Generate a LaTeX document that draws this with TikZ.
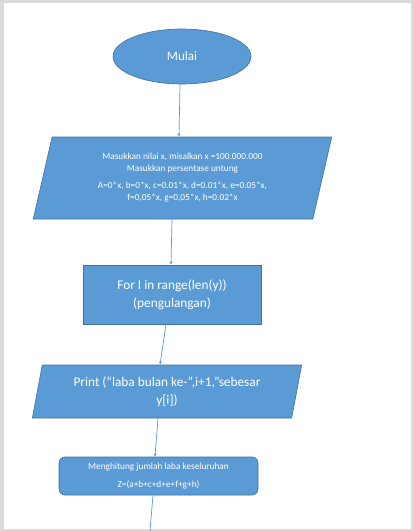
\documentclass[tikz,border=0pt]{standalone}
\usepackage{fontspec}
\setmainfont{Carlito}
\usetikzlibrary{positioning,shapes.geometric,arrows.meta}
\definecolor{boxblue}{HTML}{5B9BD5}
\definecolor{boxline}{HTML}{41719C}
\definecolor{pagegray}{HTML}{DADADA}
\tikzset{
	flow/.style={
		draw=boxline,
		fill=boxblue,
		line width=0.6pt,
		text=white,
		align=center,
		inner sep=0pt
	},
	io/.style={
		flow,
		trapezium,
		trapezium left angle=76,
		trapezium right angle=104,
		trapezium stretches=true
	},
	link/.style={
		draw=boxblue,
		line width=0.7pt,
		-{Latex[length=3pt,width=3pt]}
	}
}

\begin{document}
\begin{tikzpicture}[x=1pt, y=-1pt]
			\fill[pagegray] (0,0) rectangle (414,531);
			\fill[white] (4,3) rectangle (411,529);
			\useasboundingbox (0,0) rectangle (414,531);
			\node [flow, ellipse, minimum width=138pt, minimum height=55pt, font=\fontsize{13}{16}\selectfont] (start) at (182,56.5) {Mulai};
			\node [io, minimum width=299pt, minimum height=82pt, font=\fontsize{9.3}{12}\selectfont] (input) at (182.5,178) {Masukkan nilai x, misalkan x =100.000.000\\Masukkan persentase untung\\[5pt]A=0*x, b=0*x, c=0.01*x, d=0.01*x, e=0.05*x,\\f=0,05*x, g=0,05*x, h=0.02*x};
			\node [flow, rectangle, minimum width=178pt, minimum height=59pt, font=\fontsize{13.3}{18}\selectfont] (loop) at (172,294.5) {For I in range(len(y))\\(pengulangan)};
			\node [io, minimum width=270pt, minimum height=53pt, font=\fontsize{13.3}{18}\selectfont] (print) at (167,391.5) {Print (“laba bulan ke-“,i+1,”sebesar\\y[i])};
			\node [flow, rectangle, rounded corners=6pt, minimum width=199pt, minimum height=38pt, font=\fontsize{9.3}{12}\selectfont] (sum) at (158.5,476) {Menghitung jumlah laba keseluruhan\\[6pt]Z=(a+b+c+d+e+f+g+h)};
			\coordinate (next) at (150,531);
			% connectors
			\draw [link] ([xshift=-2pt]start.south) -- ([xshift=-3.5pt]input.north);
			\draw [link] ([xshift=-10.5pt]input.south) -- ([xshift=-1pt]loop.north);
			\draw [link] ([xshift=-6pt]loop.south) -- ([xshift=-7pt]print.north);
			\draw [link] ([xshift=-9pt]print.south) -- ([xshift=-3.5pt]sum.north);
			\draw [draw=boxblue, line width=0.7pt] ([xshift=-5.5pt]sum.south) -- (next);
		\end{tikzpicture}
\end{document}
